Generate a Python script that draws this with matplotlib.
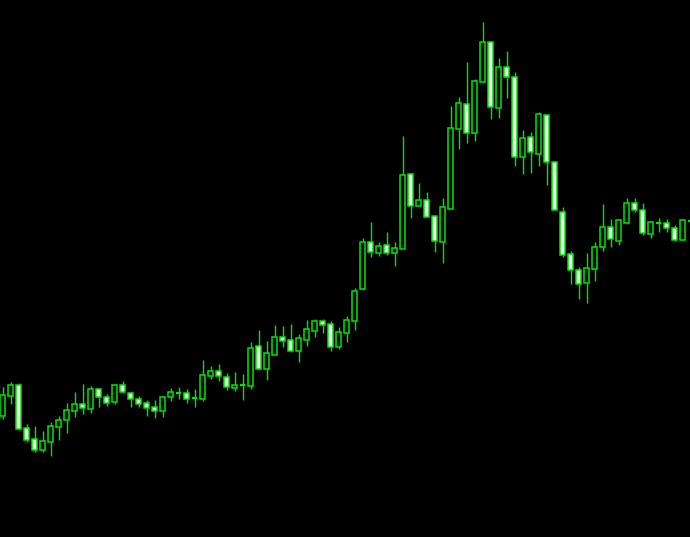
import matplotlib
matplotlib.use("Agg")
import matplotlib.pyplot as plt
from matplotlib.patches import Rectangle

# OHLC series (price units)
opens = [121, 141, 152, 109, 98, 87, 95, 110, 117, 126, 133, 128, 148, 140, 135, 152, 144, 138, 134, 130,
         126, 140, 144.3, 144, 139, 138, 161, 166, 160, 149, 152, 151, 191, 168, 182, 200, 197, 186, 197, 206,
         216, 213, 190, 204, 216, 248, 295, 284, 292, 284, 288, 363, 331, 337, 321, 295, 328, 408, 433, 404,
         455, 495, 429, 470, 460, 380, 400, 383, 422, 375, 325, 283, 267, 254, 268, 290, 310, 296, 314, 334,
         327, 303, 314, 314, 309, 297, 316]
highs = [150, 155, 154, 113, 111, 106, 115, 121, 134, 145, 153, 151, 149, 143, 153, 156, 145, 141, 137, 137,
         141, 149, 150, 148, 148, 177, 171, 173, 164, 165, 163, 195, 207, 196, 212, 211, 213, 203, 217, 218,
         218, 216, 210, 221, 249, 299, 315, 295, 305, 295, 401, 364, 354, 345, 321, 339, 431, 440, 475, 458,
         515, 496, 479, 486, 465, 407, 405, 425, 422, 376, 330, 286, 270, 284, 295, 333, 318, 318, 339, 339,
         334, 316, 319, 318, 312, 318, 318]
lows = [118, 133, 107, 95, 85, 85, 81, 97, 104, 120, 123, 124, 130, 131, 133, 144, 130, 130, 121, 119,
        120, 136, 138, 134, 130, 136, 158, 156, 147, 146, 137, 148, 167, 157, 182, 190, 185, 175, 191, 200,
        204, 186, 188, 195, 207, 247, 280, 281, 282, 271, 288, 319, 331, 320, 285, 274, 328, 388, 394, 396,
        454, 418, 419, 439, 371, 363, 364, 371, 352, 327, 280, 253, 238, 234, 256, 286, 290, 292, 313, 325,
        302, 299, 305, 305, 296, 297, 313]
closes = [142, 152, 108, 97, 87, 96, 111, 117, 127, 133, 129, 148, 140, 134, 152, 145, 138, 133, 129, 126,
          140, 145, 144.3, 138, 139, 162, 166, 161, 150, 152, 152, 189, 168, 184, 200, 196, 186, 199, 208, 216,
          212, 190, 205, 217, 246, 295, 285, 291, 284, 289, 362, 331, 337, 320, 296, 330, 409, 434, 404, 456,
          495, 430, 470, 460, 380, 399, 385, 423, 375, 327, 282, 267, 253, 269, 290, 310, 298, 317, 334, 327,
          304, 315, 314, 309, 297, 317, 316]

LINE = "#00e600"
BEAR_FILL = "#f4fff4"
BULL_FILL = "#000000"

fig = plt.figure(figsize=(6.9, 5.37), dpi=100, facecolor="black")
ax = fig.add_axes([0, 0, 1, 1])
ax.set_facecolor("black")

w = 0.56
for i, (o, h, l, c) in enumerate(zip(opens, highs, lows, closes)):
    top = max(o, c)
    bot = min(o, c)
    # wicks
    ax.plot([i, i], [l, bot], color=LINE, lw=1.0, solid_capstyle="butt", zorder=1)
    ax.plot([i, i], [top, h], color=LINE, lw=1.0, solid_capstyle="butt", zorder=1)
    if top - bot < 0.5:
        ax.plot([i - w / 2 - 0.08, i + w / 2 + 0.08], [o, o], color=LINE, lw=1.6,
                solid_capstyle="butt", zorder=2)
    else:
        fill = BULL_FILL if c > o else BEAR_FILL
        ax.add_patch(Rectangle((i - w / 2, bot), w, top - bot, facecolor=fill,
                               edgecolor=LINE, lw=1.1, zorder=2))

ax.set_xlim(-0.3125, -0.3125 + 690 / 8)
ax.set_ylim(0, 537)
ax.axis("off")
fig.savefig("out.png", dpi=100, facecolor="black")
